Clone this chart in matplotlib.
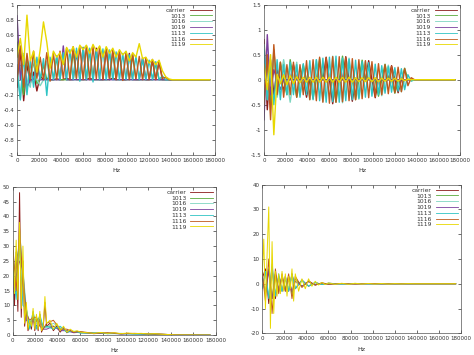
import matplotlib
matplotlib.use("Agg")
import matplotlib.pyplot as plt
from matplotlib.ticker import FuncFormatter, MultipleLocator

# --- nazvy serii a farby (gnuplot styl) ---
serie = ["carrier", "1013", "1016", "1019", "1113", "1116", "1119"]
farby = ["#8b1a1a", "#5aab3c", "#7fd6c0", "#7b3f9e", "#2ec4c4", "#c0581c", "#e8d800"]

# --- horne grafy: frekvencie v kHz ---
khz_top = [0, 3, 6, 9, 12, 15, 18, 21, 24, 27, 30, 33, 36, 39, 42, 45, 48, 51, 54, 57,
           60, 63, 66, 69, 72, 75, 78, 81, 84, 87, 90, 93, 96, 99, 102, 105, 108, 111, 114, 117,
           120, 123, 126, 129, 132, 135, 138, 141, 175]

# horny lavy graf
tl_carrier = [-0.10, 0.40, -0.28, 0.20, -0.05, 0.10, -0.15, 0.05, 0.00, 0.02,
              0.00, 0.00, 0.01, 0.00, 0.00, 0.02, 0.00, 0.00, 0.38, 0.00,
              0.43, 0.00, 0.02, 0.00, 0.42, 0.00, 0.00, 0.41, 0.00, 0.02,
              0.00, 0.36, 0.00, 0.00, 0.35, 0.00, 0.00, 0.00, 0.29, 0.00,
              0.00, 0.26, 0.00, 0.24, 0.00, 0.00, 0.00, 0.00, 0.00]
tl_1013 = [0.50, 0.10, -0.20, 0.30, 0.00, 0.25, -0.05, 0.00, 0.20, 0.00,
           0.00, 0.00, 0.30, 0.00, 0.00, 0.00, 0.00, 0.38, 0.00, 0.00,
           0.00, 0.00, 0.40, 0.00, 0.00, 0.00, 0.00, 0.00, 0.00, 0.38,
           0.00, 0.00, 0.00, 0.00, 0.00, 0.33, 0.00, 0.00, 0.00, 0.00,
           0.00, 0.00, 0.22, 0.00, 0.00, 0.00, 0.00, 0.00, 0.00]
tl_1016 = [0.20, -0.25, 0.35, 0.00, -0.10, 0.30, 0.00, -0.08, 0.00, 0.25,
           0.00, 0.00, 0.00, 0.00, 0.35, 0.00, 0.00, 0.00, 0.00, 0.00,
           0.00, 0.44, 0.00, 0.00, 0.00, 0.00, 0.00, 0.00, 0.40, 0.00,
           0.00, 0.00, 0.00, 0.37, 0.00, 0.00, 0.00, 0.00, 0.00, 0.28,
           0.00, 0.00, 0.00, 0.00, 0.00, 0.00, 0.00, 0.00, 0.00]
tl_1019 = [0.85, 0.00, 0.30, -0.10, 0.00, 0.00, 0.20, 0.00, 0.00, 0.00,
           0.00, 0.00, 0.00, 0.00, 0.45, 0.00, 0.00, 0.00, 0.00, 0.00,
           0.00, 0.00, 0.00, 0.00, 0.00, 0.00, 0.00, 0.00, 0.00, 0.00,
           0.00, 0.00, 0.00, 0.00, 0.00, 0.00, 0.00, 0.00, 0.00, 0.00,
           0.00, 0.00, 0.00, 0.00, 0.00, 0.00, 0.00, 0.00, 0.00]
tl_1113 = [0.10, -0.27, 0.32, -0.20, 0.25, -0.10, 0.30, 0.00, 0.28, -0.21,
           0.30, 0.00, 0.32, 0.00, 0.36, 0.00, 0.40, 0.00, 0.42, -0.02,
           0.43, 0.00, 0.42, -0.03, 0.40, 0.00, 0.41, 0.00, 0.38, 0.00,
           0.37, 0.00, 0.35, 0.00, 0.33, 0.00, 0.31, 0.00, 0.28, 0.00,
           0.26, 0.00, 0.24, 0.00, 0.05, 0.00, 0.00, 0.00, 0.00]
tl_1116 = [0.00, 0.45, -0.10, 0.35, 0.00, 0.38, 0.02, 0.30, 0.00, 0.36,
           -0.02, 0.35, 0.00, 0.38, 0.01, 0.42, 0.00, 0.44, 0.02, 0.44,
           0.00, 0.45, 0.00, 0.44, 0.01, 0.44, 0.00, 0.42, 0.02, 0.40,
           0.00, 0.38, -0.01, 0.36, 0.00, 0.34, 0.01, 0.31, 0.00, 0.29,
           0.00, 0.27, 0.00, 0.25, 0.02, 0.03, 0.00, 0.00, 0.00]
tl_1119 = [0.30, 0.55, 0.20, 0.86, 0.25, 0.38, 0.10, 0.40, 0.77, 0.50,
           0.15, 0.38, 0.30, 0.36, 0.20, 0.43, 0.35, 0.44, 0.30, 0.46,
           0.40, 0.46, 0.35, 0.47, 0.38, 0.45, 0.30, 0.44, 0.35, 0.42,
           0.30, 0.40, 0.33, 0.38, 0.25, 0.36, 0.30, 0.48, 0.28, 0.30,
           0.22, 0.27, 0.20, 0.26, 0.12, 0.04, 0.01, 0.00, 0.00]

# horny pravy graf
tr_carrier = [0.80, -0.60, 0.40, -0.30, 0.20, 0.00, -0.20, 0.00, 0.00, 0.30,
              0.00, 0.00, 0.00, -0.35, 0.00, 0.00, 0.00, 0.00, 0.00, 0.45,
              0.00, -0.48, 0.00, 0.00, 0.00, 0.46, 0.00, -0.43, 0.00, 0.00,
              0.00, 0.00, 0.38, 0.00, -0.36, 0.00, 0.00, 0.00, 0.00, 0.28,
              0.00, -0.26, 0.00, 0.00, 0.00, 0.00, 0.00, 0.00, 0.00]
tr_1013 = [0.40, 0.30, -0.50, 0.60, -0.20, 0.35, 0.00, -0.30, 0.40, 0.00,
           -0.35, 0.00, 0.30, 0.00, 0.00, -0.38, 0.00, 0.42, 0.00, 0.00,
           0.00, 0.00, -0.45, 0.00, 0.47, 0.00, 0.00, 0.00, -0.40, 0.00,
           0.39, 0.00, 0.00, 0.00, 0.00, -0.33, 0.00, 0.31, 0.00, 0.00,
           -0.27, 0.00, 0.00, 0.23, 0.00, 0.00, 0.00, 0.00, 0.00]
tr_1016 = [0.70, -0.40, 0.00, 0.45, -0.35, 0.00, 0.40, 0.00, -0.45, 0.00,
           0.35, -0.30, 0.00, 0.00, -0.40, 0.00, 0.40, 0.00, -0.44, 0.00,
           0.00, 0.47, 0.00, 0.00, -0.46, 0.00, 0.43, 0.00, 0.00, -0.39,
           0.00, 0.37, 0.00, 0.00, 0.00, 0.00, -0.32, 0.00, 0.29, 0.00,
           0.00, 0.00, -0.24, 0.00, 0.00, 0.00, 0.00, 0.00, 0.00]
tr_1019 = [-0.80, 0.90, -0.30, 0.20, 0.00, -0.20, 0.00, 0.00, 0.00, 0.00,
           0.00, 0.00, 0.00, 0.00, 0.00, 0.00, 0.00, 0.00, 0.00, 0.00,
           0.00, 0.00, 0.00, 0.00, 0.00, 0.00, 0.00, 0.00, 0.00, 0.00,
           0.00, 0.00, 0.00, 0.00, 0.00, 0.00, 0.00, 0.00, 0.00, 0.00,
           0.00, 0.00, 0.00, 0.00, 0.00, 0.00, 0.00, 0.00, 0.00]
tr_1113 = [0.60, -0.40, 0.30, -0.50, 0.40, -0.40, 0.30, -0.30, 0.35, -0.30,
           0.30, -0.35, 0.32, -0.30, 0.38, -0.40, 0.40, -0.42, 0.43, -0.45,
           0.45, -0.44, 0.47, -0.45, 0.43, -0.42, 0.41, -0.40, 0.39, -0.37,
           0.36, -0.35, 0.34, -0.33, 0.31, -0.30, 0.28, -0.27, 0.26, -0.25,
           0.24, -0.23, 0.22, -0.20, 0.10, -0.03, 0.00, 0.00, 0.00]
tr_1116 = [-0.50, 0.50, -0.80, 0.70, -0.30, 0.35, -0.35, 0.30, -0.30, 0.35,
           -0.35, 0.30, -0.30, 0.38, -0.40, 0.40, -0.42, 0.45, -0.45, 0.44,
           -0.47, 0.46, -0.45, 0.46, -0.44, 0.44, -0.42, 0.42, -0.40, 0.40,
           -0.38, 0.38, -0.36, 0.36, -0.34, 0.32, -0.30, 0.30, -0.28, 0.27,
           -0.26, 0.25, -0.24, 0.22, -0.12, 0.04, 0.00, 0.00, 0.00]
tr_1119 = [0.30, -0.20, 0.50, -1.10, 0.10, -0.08, 0.10, -0.10, 0.08, -0.08,
           0.06, -0.06, 0.05, -0.05, 0.05, -0.05, 0.05, -0.05, 0.05, -0.05,
           0.05, -0.05, 0.05, -0.05, 0.05, -0.05, 0.05, -0.05, 0.04, -0.04,
           0.04, -0.04, 0.04, -0.04, 0.04, -0.04, 0.03, -0.03, 0.03, -0.03,
           0.03, -0.03, 0.02, -0.02, 0.01, 0.00, 0.00, 0.00, 0.00]

# --- dolne grafy: jemna a hruba mriezka frekvencii v kHz ---
khz_bot = [0, 1.5, 3, 4.5, 6, 7.5, 9, 10.5, 12, 13.5, 15, 16.5, 18, 19.5, 21, 22.5, 24, 25.5,
           27, 28.5, 30, 33, 36, 39, 42, 45, 48, 51, 54, 57, 60, 66, 72, 78, 84, 90, 96, 102,
           108, 114, 120, 126, 132, 138, 144, 175]
khz_bot_hruba = [0, 3, 6, 9, 12, 15, 18, 21, 24, 27, 30, 36, 42, 48, 54, 60, 72, 84, 96,
                 108, 120, 132, 144, 175]

# dolny lavy graf
bl_carrier = [25, 10, 28, 8, 48, 6, 25, 3, 9, 1.5, 4, 2, 7, 1.5, 6, 1.5, 7, 1, 2.5, 11,
              3, 4, 1.5, 3, 1, 2.5, 0.8, 1.5, 1, 1.2, 0.8, 0.7, 0.5, 0.8, 0.5, 0.7, 0.4, 0.6,
              0.4, 0.5, 0.3, 0.4, 0.2, 0.1, 0.0, 0.0]
bl_1013 = [20, 25, 30, 20, 8, 4, 6, 5, 6, 2.5, 3, 3, 2, 1.5, 1, 1, 0.6, 0.6, 0.5, 0.5, 0.4, 0.3, 0.1, 0]
bl_1016 = [28, 18, 35, 22, 9, 3, 7, 4, 6, 2.5, 2.5, 4, 2.5, 1.2, 1.2, 0.8, 0.7, 0.5, 0.6, 0.4, 0.4, 0.2, 0.1, 0]
bl_1019 = [15, 20, 25, 22, 5, 4, 5, 3, 5, 2, 2, 3, 1.5, 1.5, 0.8, 1, 0.5, 0.7, 0.4, 0.5, 0.3, 0.3, 0.1, 0]
bl_1113 = [22, 12, 30, 10, 9, 2, 8, 2, 7, 2.5, 3, 2, 3, 1, 1.3, 0.7, 0.8, 0.5, 0.5, 0.4, 0.3, 0.2, 0.1, 0]
bl_1116 = [30, 15, 36, 18, 7, 5, 6, 6, 3, 2, 4, 5, 2, 2, 1, 1.2, 0.6, 0.8, 0.5, 0.6, 0.4, 0.3, 0.1, 0]
bl_1119 = [30, 14, 32, 12, 38, 9, 30, 4, 11, 2, 5, 3, 9, 2, 7, 2, 8, 1.5, 3, 13,
           4, 5, 2, 4, 1.5, 3, 1, 2, 1.2, 1.5, 1.0, 0.8, 0.6, 0.9, 0.6, 0.8, 0.5, 0.7,
           0.5, 0.6, 0.4, 0.5, 0.3, 0.2, 0.05, 0.0]

# dolny pravy graf
br_carrier = [2, 6, -8, 6, -6, 3, -3, 3, -3, 4, -2, 1.5, -1, 0.5, -0.3, 0.2, -0.1, 0.1, 0, 0, 0, 0, 0, 0]
br_1013 = [3, -4, 6, -6, 4, -3, 3, -2, 3, -4, 2, -1, 1, -0.5, 0.3, -0.2, 0.1, -0.1, 0, 0, 0, 0, 0, 0]
br_1016 = [-2, 5, -5, 8, -4, 3, -3, 3, -2, 3, -1.5, 1, -0.8, 0.5, -0.2, 0.2, -0.1, 0.1, 0, 0, 0, 0, 0, 0]
br_1019 = [3, -4, 5, -6, 4, -2, 3, -3, 2, -3, 1, -1, 0.8, -0.4, 0.2, -0.1, 0.1, 0, 0, 0, 0, 0, 0, 0]
br_1113 = [-2, 5, -6, 7, -5, 4, -3, 2, -3, 4, -2, 1.5, -1, 0.5, -0.3, 0.2, -0.1, 0.1, 0, 0, 0, 0, 0, 0]
br_1116 = [5, -7, 10, -12, 6, -4, 4, -3, 4, -6, 3, -1.5, 1.2, -0.6, 0.4, -0.2, 0.1, -0.1, 0.1, 0, 0, 0, 0, 0]
br_1119 = [3, 18, -10, 12, 31, -18, 17, -12, 5, -5, 4, -4, 5, -3, 4, -5, 3, -2, 6, -7,
           4, -3, 2, -2, 2, -1, 1, -0.5, 0.5, -0.3, 0.3, -0.2, 0.2, -0.2, 0.2, -0.1, 0.1, -0.1,
           0.1, -0.1, 0.05, -0.05, 0.05, 0.0, 0.0, 0.0]


def hz(khz):
    return [k * 1000 for k in khz]


def uprav_os(ax, ymin, ymax, ykrok):
    # gnuplot vzhlad: tiky dovnutra na vsetkych stranach
    ax.set_xlim(0, 180000)
    ax.set_ylim(ymin, ymax)
    ax.xaxis.set_major_locator(MultipleLocator(20000))
    ax.yaxis.set_major_locator(MultipleLocator(ykrok))
    ax.xaxis.set_major_formatter(FuncFormatter(lambda v, p: "%d" % v))
    ax.yaxis.set_major_formatter(FuncFormatter(lambda v, p: "%g" % round(v, 6)))
    ax.tick_params(direction="in", top=True, right=True, length=2.5, width=0.5,
                   labelsize=4.0, pad=2, colors="#333333")
    for s in ax.spines.values():
        s.set_linewidth(0.5)
        s.set_color("#555555")
    ax.set_xlabel("Hz", fontsize=4.6, labelpad=4, color="#333333")
    leg = ax.legend(loc="upper right", frameon=False, markerfirst=False, fontsize=4.3,
                    handlelength=3.8, handletextpad=0.6, labelspacing=0.1,
                    borderaxespad=0.2, borderpad=0.3)
    for t in leg.get_texts():
        t.set_color("#333333")
    for h in leg.get_lines():
        h.set_linewidth(0.6)


def nakresli():
    fig = plt.figure(figsize=(4.74, 3.55), dpi=100)

    ax1 = fig.add_axes([0.036, 0.564, 0.418, 0.423])
    ax2 = fig.add_axes([0.557, 0.564, 0.414, 0.423])
    ax3 = fig.add_axes([0.027, 0.056, 0.428, 0.418])
    ax4 = fig.add_axes([0.553, 0.061, 0.420, 0.419])

    tl = [tl_carrier, tl_1013, tl_1016, tl_1019, tl_1113, tl_1116, tl_1119]
    tr = [tr_carrier, tr_1013, tr_1016, tr_1019, tr_1113, tr_1116, tr_1119]
    for i, meno in enumerate(serie):
        ax1.plot(hz(khz_top), tl[i], color=farby[i], lw=1.0, label=meno)
        ax2.plot(hz(khz_top), tr[i], color=farby[i], lw=1.0, label=meno)

    bl = [bl_carrier, bl_1013, bl_1016, bl_1019, bl_1113, bl_1116, bl_1119]
    br = [br_carrier, br_1013, br_1016, br_1019, br_1113, br_1116, br_1119]
    for i, meno in enumerate(serie):
        x = khz_bot if len(bl[i]) == len(khz_bot) else khz_bot_hruba
        ax3.plot(hz(x), bl[i], color=farby[i], lw=0.7, label=meno)
        x = khz_bot if len(br[i]) == len(khz_bot) else khz_bot_hruba
        ax4.plot(hz(x), br[i], color=farby[i], lw=0.7, label=meno)

    uprav_os(ax1, -1, 1, 0.2)
    uprav_os(ax2, -1.5, 1.5, 0.5)
    uprav_os(ax3, 0, 50, 5)
    uprav_os(ax4, -20, 40, 10)

    fig.savefig("out.png", dpi=100)
    plt.close(fig)


if __name__ == "__main__":
    nakresli()
